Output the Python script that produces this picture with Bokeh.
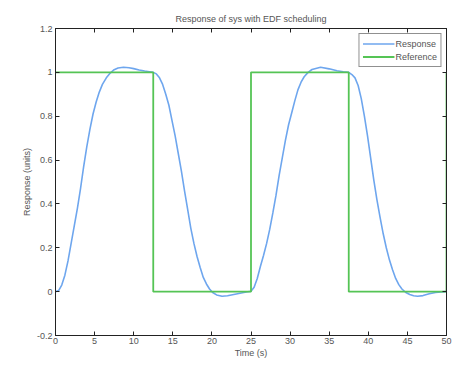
from bokeh.plotting import figure
from bokeh.models import LinearAxis, FixedTicker, Range1d, Legend, LegendItem
from bokeh.embed import file_html
from bokeh.resources import INLINE

# ---- data ----
resp_t = [0.0, 0.4, 0.8, 1.2, 1.6, 2.0, 2.4, 2.8, 3.2, 3.6, 4.0, 4.4, 4.8, 5.2, 5.6,
          6.0, 6.5, 7.0, 7.5, 8.0, 8.7, 9.4, 10.0, 10.7, 11.4, 12.0, 12.5,
          12.9, 13.3, 13.7, 14.1, 14.5, 14.9, 15.3, 15.7, 16.1, 16.5, 16.9, 17.3,
          17.7, 18.1, 18.5, 18.9, 19.3, 19.7, 20.1, 20.6, 21.3, 22.0, 22.8, 23.6,
          24.4, 25.0,
          25.4, 25.8, 26.2, 26.6, 27.0, 27.4, 27.8, 28.2, 28.6, 29.0, 29.4, 29.8,
          30.2, 30.6, 31.0, 31.4, 31.8, 32.3, 32.8, 33.9, 35.0, 36.0, 36.8, 37.5,
          37.9, 38.3, 38.7, 39.1, 39.5, 39.9, 40.3, 40.7, 41.1, 41.5, 41.9, 42.3,
          42.7, 43.1, 43.5, 43.9, 44.3, 44.8, 45.3, 45.8, 46.3, 47.0, 47.8, 48.6,
          49.3, 50.0]
resp_y = [0.0, 0.005, 0.03, 0.075, 0.14, 0.22, 0.30, 0.38, 0.47, 0.57, 0.66, 0.74, 0.81, 0.865, 0.91,
          0.945, 0.975, 0.997, 1.012, 1.02, 1.023, 1.021, 1.017, 1.011, 1.006, 1.003, 1.0,
          0.993, 0.975, 0.945, 0.90, 0.85, 0.78, 0.71, 0.63, 0.55, 0.46, 0.375, 0.29,
          0.22, 0.16, 0.11, 0.065, 0.035, 0.012, -0.004, -0.015, -0.021, -0.019, -0.013, -0.007,
          -0.002, 0.002,
          0.02, 0.06, 0.115, 0.165, 0.22, 0.285, 0.36, 0.44, 0.53, 0.61, 0.69, 0.76,
          0.815, 0.87, 0.92, 0.955, 0.98, 1.0, 1.013, 1.023, 1.016, 1.007, 1.003, 1.0,
          0.99, 0.975, 0.94, 0.88, 0.80, 0.71, 0.61, 0.51, 0.42, 0.34, 0.265, 0.20,
          0.145, 0.10, 0.06, 0.032, 0.012, -0.004, -0.013, -0.019, -0.021, -0.018, -0.01, -0.004,
          -0.001, 0.0]
ref_t = [0, 12.5, 12.5, 25, 25, 37.5, 37.5, 50, 50]
ref_y = [1, 1, 0, 0, 1, 1, 0, 0, 1]

x_ticks = [0, 5, 10, 15, 20, 25, 30, 35, 40, 45, 50]
y_ticks = [-0.2, 0, 0.2, 0.4, 0.6, 0.8, 1.0, 1.2]
y_tick_labels = ["-0.2", "0", "0.2", "0.4", "0.6", "0.8", "1", "1.2"]

title_text = "Response of sys with EDF scheduling"
x_label = "Time (s)"
y_label = "Response (units)"

FONT = "Liberation Sans"
TXT = "#555555"
BLUE = "#6ea6ee"
GREEN = "#55c455"

p = figure(width=466, height=361, output_backend="svg", toolbar_location=None,
           x_range=Range1d(0, 50), y_range=Range1d(-0.2, 1.2),
           min_border_left=55, min_border_right=20, min_border_top=28, min_border_bottom=26)
p.title.text = title_text
p.title.align = "center"
p.title.text_font = FONT
p.title.text_font_size = "9px"
p.title.text_font_style = "normal"
p.title.text_color = TXT
p.title.standoff = 10

p.xgrid.visible = False
p.ygrid.visible = False
p.outline_line_color = "#222222"
p.outline_line_width = 1

r1 = p.line(resp_t, resp_y, line_color=BLUE, line_width=1.6)
r2 = p.line(ref_t, ref_y, line_color=GREEN, line_width=1.8)

def style_axis(ax, labels=True):
    ax.major_tick_in = 4
    ax.major_tick_out = 0
    ax.minor_tick_in = 0
    ax.minor_tick_out = 0
    ax.axis_line_color = "#222222"
    ax.major_tick_line_color = "#222222"
    ax.major_label_text_font = FONT
    ax.major_label_text_font_size = "9px"
    ax.major_label_text_color = TXT if labels else None
    ax.axis_label_text_font = FONT
    ax.axis_label_text_font_size = "9px"
    ax.axis_label_text_font_style = "normal"
    ax.axis_label_text_color = TXT

xa = p.xaxis[0]
xa.ticker = FixedTicker(ticks=x_ticks)
xa.axis_label = x_label
xa.major_label_standoff = 2
xa.axis_label_standoff = 1
style_axis(xa)

ya = p.yaxis[0]
ya.ticker = FixedTicker(ticks=y_ticks)
ya.major_label_overrides = {t: l for t, l in zip(y_ticks, y_tick_labels)}
ya.axis_label = y_label
ya.major_label_standoff = 3
ya.axis_label_standoff = 2
style_axis(ya)

top = LinearAxis(ticker=FixedTicker(ticks=x_ticks))
style_axis(top, labels=False)
top.major_label_text_font_size = "0px"
top.major_label_standoff = 0
p.add_layout(top, "above")

right = LinearAxis(ticker=FixedTicker(ticks=y_ticks))
style_axis(right, labels=False)
right.major_label_text_font_size = "0px"
right.major_label_standoff = 0
p.add_layout(right, "right")

legend = Legend(items=[LegendItem(label="Response", renderers=[r1]),
                       LegendItem(label="Reference", renderers=[r2])],
                location="top_right")
legend.label_text_font = FONT
legend.label_text_font_size = "9px"
legend.label_text_color = TXT
legend.border_line_color = "#222222"
legend.border_line_width = 1
legend.background_fill_alpha = 1
legend.glyph_width = 32
legend.glyph_height = 13
legend.label_height = 13
legend.label_standoff = 1
legend.spacing = 0
legend.padding = 3
legend.margin = 5
p.add_layout(legend, "center")

open("out.html", "w").write(file_html(p, INLINE))
